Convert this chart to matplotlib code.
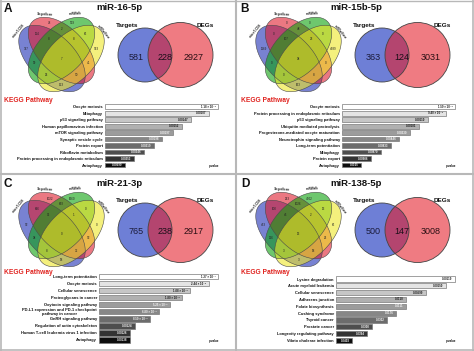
import numpy as np
import matplotlib
matplotlib.use('Agg')
import matplotlib.pyplot as plt
from matplotlib.patches import Circle, Polygon

plt.rcParams['font.family'] = ['Liberation Sans', 'DejaVu Sans']

W, H = 474, 351

# ---------------- data ----------------
panel_letters = ['A', 'B', 'C', 'D']
mirnas = ['miR-16-5p', 'miR-15b-5p', 'miR-21-3p', 'miR-138-5p']

targets_only = [581, 363, 765, 500]
overlap = [228, 124, 238, 147]
degs_only = [2927, 3031, 2917, 3008]

set_names = ['microT-CDS', 'TargetScan', 'miRWalk', 'miRTarBase']
region_keys = ['1000', '0100', '0010', '0001', '1100', '0110', '0011', '1010',
               '0101', '1001', '1110', '0111', '1011', '1101', '1111']
venn4_A = [377, 78, 959, 553, 114, 2, 86, 99, 41, 153, 8, 8, 25, 50, 7]
venn4_B = [1169, 0, 0, 4039, 0, 48, 0, 0, 0, 163, 107, 23, 0, 8, 38]
venn4_C = [52, 1022, 1660, 0, 666, 803, 0, 38, 52, 18, 96, 1, 8, 32, 0]
venn4_D = [463, 253, 4502, 86, 100, 1026, 13, 126, 26, 3, 46, 2, 3, 18, 13]

paths_A = ['Oocyte meiosis', 'Mitophagy', 'p53 signaling pathway',
           'Human papillomavirus infection', 'mTOR signaling pathway',
           'Synaptic vesicle cycle', 'Protein export', 'Riboflavin metabolism',
           'Protein processing in endoplasmic reticulum', 'Autophagy']
len_A = [113, 104, 86, 77, 68, 57, 49, 39, 29, 20]
pval_A = ['1.18 × 10⁻⁴', '0.00107', '0.00147', '0.00152', '0.00197',
          '0.00198', '0.00319', '0.00346', '0.00353', '0.00690']

paths_B = ['Oocyte meiosis', 'Protein processing in endoplasmic reticulum',
           'p53 signaling pathway', 'Ubiquitin mediated proteolysis',
           'Progesterone-mediated oocyte maturation', 'Neurotrophin signaling pathway',
           'Long-term potentiation', 'Mitophagy', 'Protein export', 'Autophagy']
len_B = [113, 104, 86, 77, 68, 57, 49, 39, 29, 19]
pval_B = ['1.59 × 10⁻⁴', '9.40 × 10⁻⁴', '0.00110', '0.00181', '0.00330',
          '0.00446', '0.00833', '0.00870', '0.00986', '0.0105']

paths_C = ['Long-term potentiation', 'Oocyte meiosis', 'Cellular senescence',
           'Proteoglycans in cancer', 'Oxytocin signaling pathway',
           'PD-L1 expression and PD-1 checkpoint\npathway in cancer',
           'GnRH signaling pathway', 'Regulation of actin cytoskeleton',
           'Human T-cell leukemia virus 1 infection', 'Autophagy']
len_C = [119, 110, 91, 83, 71, 60, 51, 36, 31, 31]
pval_C = ['1.27 × 10⁻⁷', '2.44 × 10⁻⁶', '1.08 × 10⁻⁵', '1.80 × 10⁻⁵', '5.25 × 10⁻⁵',
          '6.80 × 10⁻⁵', '8.50 × 10⁻⁵', '0.00124', '0.00126', '0.00138']

paths_D = ['Lysine degradation', 'Acute myeloid leukemia', 'Cellular senescence',
           'Adherens junction', 'Folate biosynthesis', 'Cushing syndrome',
           'Thyroid cancer', 'Prostate cancer', 'Longevity regulating pathway',
           'Vibrio cholerae infection']
len_D = [119, 110, 90, 70, 70, 60, 51, 36, 31, 16]
pval_D = ['0.00119', '0.00150', '0.00599', '0.0110', '0.0111',
          '0.0176', '0.0302', '0.0300', '0.0394', '0.0403']

venn4_all = [venn4_A, venn4_B, venn4_C, venn4_D]
paths_all = [paths_A, paths_B, paths_C, paths_D]
len_all = [len_A, len_B, len_C, len_D]
pval_all = [pval_A, pval_B, pval_C, pval_D]

# ---------------- layout ----------------
offsets = [(0, 0), (237, 0), (0, 175), (237, 175)]
bar_x0 = [105, 105, 99, 99]
bar_ytop = [106.7, 106.7, 101.7, 104]
bar_ybot = [165, 165, 165, 165.5]
kegg_y = [100, 100, 97, 97]

fig = plt.figure(figsize=(W / 100, H / 100), dpi=100)
fig.patch.set_facecolor('white')


def add_ax(x, y, w, h):
    return fig.add_axes([x / W, 1 - (y + h) / H, w / W, h / H])


bg = fig.add_axes([0, 0, 1, 1])
bg.set_xlim(0, W)
bg.set_ylim(H, 0)
bg.axis('off')

# frames
fc = '#b8b8b8'
bg.plot([1, 1], [0, H], color=fc, lw=1.2)
bg.plot([W - 1, W - 1], [0, H], color=fc, lw=1.2)
bg.plot([236.5, 236.5], [0, H], color=fc, lw=1.5)
bg.plot([0, W], [173.5, 173.5], color=fc, lw=1.5)
bg.plot([0, W], [H - 1, H - 1], color=fc, lw=1.2)
bg.plot([0, W], [1, 1], color=fc, lw=1.0)

# 4-ellipse Venn geometry (panel pixel coordinates, y down)
r2 = 1 / np.sqrt(2)
A_AX, B_AX = 41.0, 23.0
ells = [((52.0, 58.5), (r2, r2)),
        ((61.5, 50.5), (r2, r2)),
        ((61.5, 50.5), (-r2, r2)),
        ((71.0, 58.5), (-r2, r2))]
ell_cols = ['#1e2fb4', '#de1e2f', '#0da30d', '#eee626']


def inside(px, py, e):
    (cx, cy), (mx, my) = e
    dx, dy = px - cx, py - cy
    u = mx * dx + my * dy
    v = -my * dx + mx * dy
    return (u / A_AX) ** 2 + (v / B_AX) ** 2 <= 1


gx = np.linspace(15, 110, 191)
gy = np.linspace(12, 95, 167)
GX, GY = np.meshgrid(gx, gy)
INS = [inside(GX, GY, e) for e in ells]
region_pts = {}
for key in region_keys:
    m = np.ones_like(GX, dtype=bool)
    for i, ch in enumerate(key):
        m &= INS[i] if ch == '1' else ~INS[i]
    while True:
        e = m.copy()
        e[1:, :] &= m[:-1, :]
        e[:-1, :] &= m[1:, :]
        e[:, 1:] &= m[:, :-1]
        e[:, :-1] &= m[:, 1:]
        e[0, :] = False; e[-1, :] = False; e[:, 0] = False; e[:, -1] = False
        if not e.any():
            break
        m = e
    ys, xs = np.nonzero(m)
    cxm, cym = xs.mean(), ys.mean()
    k = np.argmin((xs - cxm) ** 2 + (ys - cym) ** 2)
    region_pts[key] = (gx[xs[k]], gy[ys[k]])

greys = ['#ffffff', '#e4e4e4', '#c6c6c6', '#b0b0b0', '#9c9c9c',
         '#878787', '#6c6c6c', '#4e4e4e', '#333333', '#0d0d0d']

t = np.linspace(0, 2 * np.pi, 240)
for p in range(4):
    ox, oy = offsets[p]
    # letter & title
    bg.text(ox + 8, oy + 9, panel_letters[p], fontsize=8.5, fontweight='bold',
            ha='center', va='center', color='#111111')
    bg.text(ox + 119, oy + 8, mirnas[p], fontsize=6.8, fontweight='bold',
            ha='center', va='center', color='#111111')

    # 4-set Venn
    for e, col in zip(ells, ell_cols):
        (cx, cy), (mx, my) = e
        xx = cx + A_AX * np.cos(t) * mx - B_AX * np.sin(t) * my
        yy = cy + A_AX * np.cos(t) * my + B_AX * np.sin(t) * mx
        P = np.column_stack([ox + xx, oy + yy])
        bg.add_patch(Polygon(P, closed=True, facecolor=col, alpha=0.6,
                             edgecolor='none'))
    for e in ells:
        (cx, cy), (mx, my) = e
        xx = cx + A_AX * np.cos(t) * mx - B_AX * np.sin(t) * my
        yy = cy + A_AX * np.cos(t) * my + B_AX * np.sin(t) * mx
        P = np.column_stack([ox + xx, oy + yy])
        bg.add_patch(Polygon(P, closed=True, facecolor='none',
                             edgecolor='#4a4a4a', lw=0.4))
    for key, val in zip(region_keys, venn4_all[p]):
        x, y = region_pts[key]
        bg.text(ox + x, oy + y, str(val), fontsize=2.2, ha='center', va='center',
                color='#222222')
    lab_pos = [(19, 31, 50), (45, 14, -3), (75, 14, 3), (103, 32, -50)]
    for name, (lx, ly, rot) in zip(set_names, lab_pos):
        bg.text(ox + lx, oy + ly, name, fontsize=2.2, fontweight='bold',
                rotation=rot, ha='center', va='center', color='#222222')

    # 2-set Venn
    cb = Circle((ox + 145, oy + 55), 27, facecolor='#6e7fd6', edgecolor='none')
    cr = Circle((ox + 180.5, oy + 55), 32.5, facecolor='#ef7b82', edgecolor='none')
    bg.add_patch(cb)
    bg.add_patch(cr)
    co = Circle((ox + 180.5, oy + 55), 32.5, facecolor='#b4456f', edgecolor='none')
    bg.add_patch(co)
    co.set_clip_path(cb)
    bg.add_patch(Circle((ox + 145, oy + 55), 27, facecolor='none',
                        edgecolor='#444444', lw=0.6))
    bg.add_patch(Circle((ox + 180.5, oy + 55), 32.5, facecolor='none',
                        edgecolor='#444444', lw=0.6))
    bg.text(ox + 127, oy + 25.5, 'Targets', fontsize=4.6, fontweight='bold',
            ha='center', va='center', color='#111111')
    bg.text(ox + 205, oy + 25.5, 'DEGs', fontsize=4.6, fontweight='bold',
            ha='center', va='center', color='#111111')
    bg.text(ox + 136, oy + 57, str(targets_only[p]), fontsize=6.5,
            ha='center', va='center', color='#1b1b3a')
    bg.text(ox + 165, oy + 57, str(overlap[p]), fontsize=6.5,
            ha='center', va='center', color='#1b0f18')
    bg.text(ox + 194, oy + 57, str(degs_only[p]), fontsize=6.5,
            ha='center', va='center', color='#2a0f14')

    # KEGG header
    bg.text(ox + 4, oy + kegg_y[p], 'KEGG Pathway', fontsize=4.8,
            fontweight='bold', ha='left', va='center', color='#e0231f')

    # bar chart
    n = len(paths_all[p])
    sp = (bar_ybot[p] - bar_ytop[p]) / (n - 1)
    x0 = bar_x0[p]
    x1 = 232
    ax = add_ax(ox + x0, oy + bar_ytop[p] - sp / 2, x1 - x0,
                bar_ybot[p] - bar_ytop[p] + sp)
    ax.set_xlim(0, x1 - x0)
    ax.set_ylim(n - 0.5, -0.5)
    yy = np.arange(n)
    ax.barh(yy, len_all[p], height=0.74, color=greys, edgecolor='#7a7a7a',
            linewidth=0.5)
    for i, (L, pv) in enumerate(zip(len_all[p], pval_all[p])):
        ax.text(L - 2.5, i, pv, fontsize=2.1, fontweight='bold', ha='right',
                va='center', color='#1a1a1a' if i < 4 else '#f5f5f5')
    ax.set_yticks(yy)
    ax.set_yticklabels(paths_all[p], fontsize=2.9, fontweight='bold',
                       color='#111111')
    for lbl in ax.get_yticklabels():
        lbl.set_multialignment('center')
        lbl.set_linespacing(0.9)
    ax.tick_params(axis='y', length=0, pad=1.5)
    ax.set_xticks([])
    for s in ax.spines.values():
        s.set_visible(False)
    ax.patch.set_alpha(0)
    bg.text(ox + 214, oy + 166, 'p-value', fontsize=2.2, fontweight='bold',
            ha='center', va='center', color='#111111')

fig.savefig('out.png', dpi=100)
